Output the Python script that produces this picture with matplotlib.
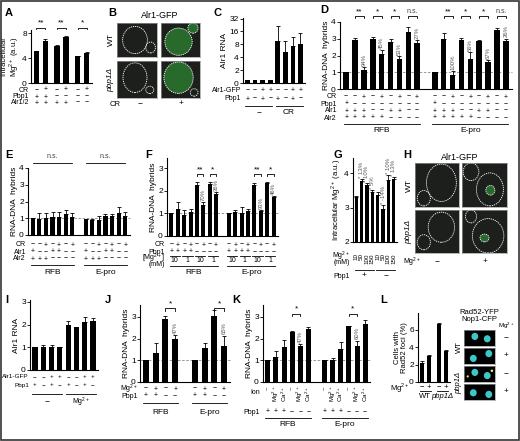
import matplotlib
matplotlib.use("Agg")
import matplotlib.pyplot as plt
import matplotlib.transforms as mtrans
from matplotlib.patches import Ellipse, Rectangle
import numpy as np

# ---------------- data ----------------
A_vals = [5.1, 6.8, 6.0, 7.4, 4.3, 4.8]
A_err = [0.1, 0.2, 0.1, 0.15, 0.05, 0.1]
A_CR = "-+-+-+"; A_Pbp1 = "++----"; A_Alr = "++++--"

C_vals = [1.15, 1.15, 1.15, 1.15, 9.5, 5.2, 7.2, 8.0]
C_errtop = [1.15, 1.15, 1.15, 1.15, 22, 9.5, 12, 15]
C_GFP = "--++--++"; C_Pbp1 = "+-+-+-+-"

D_rfb = [1.0, 2.9, 1.15, 3.0, 2.1, 2.8, 1.8, 3.4, 2.75]
D_rfb_err = [0.0, 0.15, 0.15, 0.08, 0.2, 0.2, 0.15, 0.3, 0.15]
D_epro = [1.0, 3.0, 0.85, 2.9, 1.8, 2.85, 1.6, 3.5, 2.85]
D_epro_err = [0.0, 0.35, 0.2, 0.15, 0.4, 0.05, 0.12, 0.12, 0.15]
D_pct_rfb = ["94%", "45%", "53%", "27%"]
D_pct_epro = ["100%", "56%", "67%", "26%"]
D_sig = ["**", "*", "*", "n.s."]
D_CR = "--+-+-+-+"; D_Pbp1 = "+--------"; D_Alr1 = "+++--++--"; D_Alr2 = "+++++----"

E_rfb = [1.0, 0.98, 1.0, 1.05, 1.1, 1.25, 1.05]
E_rfb_err = [0.0, 0.35, 0.3, 0.3, 0.3, 0.25, 0.25]
E_epro = [0.98, 0.88, 0.9, 1.15, 1.15, 1.3, 1.15]
E_epro_err = [0.0, 0.05, 0.25, 0.1, 0.1, 0.4, 0.25]
E_CR = "--+-+-+"; E_Alr1 = "+--++--"; E_Alr2 = "+++----"

F_rfb = [1.0, 1.2, 0.93, 1.05, 2.25, 1.38, 2.32, 1.85]
F_rfb_err = [0.0, 0.3, 0.2, 0.15, 0.12, 0.12, 0.07, 0.08]
F_epro = [1.0, 1.08, 1.03, 1.1, 2.25, 1.1, 2.35, 1.72]
F_epro_err = [0.0, 0.08, 0.25, 0.08, 0.08, 0.04, 0.04, 0.05]
F_pct_rfb = ["70%", "36%"]; F_pct_epro = ["93%", "46%"]
F_CR = "-+-+-+-+"; F_Pbp1 = "++++----"; F_Mg = ["10", "1", "10", "1"]

G_vals = [3.3, 3.78, 3.65, 3.45, 3.38, 2.97, 3.8, 3.85]
G_err = [0.04, 0.06, 0.07, 0.06, 0.08, 0.1, 0.15, 0.05]
G_lab = ["", "* 13%", "* 10%", "* 5%", "", "* -14%", "* 10%", "* 13%"]
G_Mg = ["10", "50", "100", "150", "10", "50", "100", "150"]

I_vals = [1.0, 1.0, 1.0, 1.0, 2.0, 1.9, 2.1, 2.15]
I_err = [0.0, 0.1, 0.1, 0.0, 0.15, 0.0, 0.25, 0.12]
I_GFP = "--++--++"; I_Pbp1 = "+-+-+-+-"

J_rfb = [1.0, 1.35, 2.9, 2.0]; J_rfb_err = [0.0, 0.45, 0.12, 0.15]
J_epro = [1.0, 1.55, 3.05, 1.68]; J_epro_err = [0.0, 0.25, 0.25, 0.45]
J_pct = ["47%", "65%"]; J_Mg = "-+-+"; J_Pbp1 = "++--"

K_rfb = [1.0, 1.15, 1.6, 2.3, 1.68, 2.43]; K_rfb_err = [0.0, 0.28, 0.35, 0.03, 0.06, 0.12]
K_epro = [1.0, 1.0, 1.5, 2.6, 1.65, 2.68]; K_epro_err = [0.0, 0.1, 0.35, 0.0, 0.25, 0.2]
K_pct = ["47%", "60%"]; K_Ion = ["–", "Mg$^{2+}$", "Ca$^{2+}$", "–", "Mg$^{2+}$", "Ca$^{2+}$"]
K_Pbp1 = "+++---"

L_vals = [2.2, 3.0, 6.6, 3.6]; L_err = [0.2, 0.05, 0.1, 0.1]; L_Mg = "-+-+"

# ---------------- layout helpers ----------------
plt.rcParams['font.family'] = ['Liberation Sans', 'DejaVu Sans']
plt.rcParams['mathtext.fontset'] = 'custom'
plt.rcParams['mathtext.rm'] = 'Liberation Sans'
W, H = 520, 441
fig = plt.figure(figsize=(W / 100, H / 100), dpi=100)
FS = 5
YL = 6
SG = {"+": "+", "-": "−"}

def axp(x0, y0, x1, y1):
    ax = fig.add_axes([x0 / W, 1 - y1 / H, (x1 - x0) / W, (y1 - y0) / H])
    for s in ["top", "right"]:
        ax.spines[s].set_visible(False)
    ax.spines["left"].set_linewidth(0.8)
    ax.spines["bottom"].set_linewidth(0.8)
    ax.tick_params(axis="y", labelsize=6, length=2, width=0.6, pad=1)
    ax.set_xticks([])
    return ax

def fy(y):
    return 1 - y / H

def bl(ax):
    return mtrans.blended_transform_factory(ax.transData, fig.transFigure)

def bars(ax, pos, vals, errs):
    ax.bar(pos, vals, width=0.62, color="black",
           yerr=[np.zeros(len(vals)), errs], ecolor="black",
           error_kw=dict(elinewidth=0.6, capsize=1.2, capthick=0.6))

def row(ax, pos, signs, ypx, name=None, namex=None, fs=FS):
    t = bl(ax)
    for p, s in zip(pos, signs):
        ax.text(p, fy(ypx), SG.get(s, s), transform=t, ha="center", va="center", fontsize=fs)
    if name is not None:
        fig.text(namex / W, fy(ypx), name, ha="right", va="center", fontsize=fs)

def gline(ax, x0, x1, ypx, label, lypx, fs=6):
    t = bl(ax)
    ax.plot([x0, x1], [fy(ypx), fy(ypx)], color="black", lw=0.6, transform=t, clip_on=False)
    ax.text((x0 + x1) / 2, fy(lypx), label, transform=t, ha="center", va="center", fontsize=fs)

def bracket(ax, i, j, y, txt, dy):
    ax.plot([i, i, j, j], [y - dy, y, y, y - dy], color="black", lw=0.6, clip_on=False)
    ax.text((i + j) / 2, y + dy * 0.4, txt, ha="center", va="bottom", fontsize=6 if "n" not in txt else 5,
            color="black" if "n" not in txt else "#444", clip_on=False)

def pct(ax, x, y, txt, fs=4.3):
    ax.text(x, y, txt, rotation=90, ha="center", va="bottom", fontsize=fs, color="#555")

def letter(x, y, s):
    fig.text(x / W, fy(y), s, fontsize=8, fontweight="bold", ha="left", va="center")

def dashline(ax):
    ax.axhline(1, color="#888", lw=0.6, ls=(0, (3, 2)), zorder=0, clip_on=False)

def cell_img(x0, y0, x1, y1, cells):
    a = fig.add_axes([x0 / W, 1 - y1 / H, (x1 - x0) / W, (y1 - y0) / H])
    a.set_facecolor("#1c1f1c"); a.set_xlim(0, 1); a.set_ylim(0, 1)
    a.set_xticks([]); a.set_yticks([])
    for s in a.spines.values():
        s.set_color("#999"); s.set_linewidth(0.5)
    for (cx, cy, w, h, g) in cells:
        if g:
            a.add_patch(Ellipse((cx, cy), w, h, color="#2e8a34", alpha=0.7, lw=0))
        a.add_patch(Ellipse((cx, cy), w, h, fill=False, ec="white", lw=0.6, ls=(0, (1.5, 1))))
    return a

fig.add_artist(Rectangle((0.002, 0.002), 0.996, 0.996, transform=fig.transFigure,
                         fill=False, ec="#333", lw=1.2))

# ---------------- A ----------------
letter(5, 13, "A")
ax = axp(31, 30, 92, 83)
pos = np.array([0, 1, 2.3, 3.3, 4.6, 5.6])
bars(ax, pos, A_vals, A_err)
ax.set_ylim(0, 8.5); ax.set_xlim(-0.6, 6.2); ax.set_yticks([0, 4, 8])
ax.set_ylabel("Intracellular\nMg$^{2+}$ (a.u.)", fontsize=5.5, labelpad=1, linespacing=0.9)
for (i, j, s) in [(0, 1, "**"), (2, 3, "**"), (4, 5, "*")]:
    bracket(ax, pos[i], pos[j], 8.9, s, 0.3)
row(ax, pos, A_CR, 90, "CR", 29)
row(ax, pos, A_Pbp1, 97, "Pbp1", 29)
row(ax, pos, A_Alr, 103, "Alr1/2", 29)

# ---------------- B ----------------
letter(108, 13, "B")
fig.text(160 / W, fy(15), "Alr1-GFP", fontsize=6.5, ha="center", va="center")
cell_img(117, 23, 157, 57, [(0.45, 0.5, 0.62, 0.8, False), (0.84, 0.28, 0.24, 0.32, False)])
cell_img(161, 23, 200, 57, [(0.45, 0.45, 0.7, 0.8, True), (0.82, 0.85, 0.26, 0.3, True)])
cell_img(117, 61, 157, 98, [(0.45, 0.55, 0.6, 0.8, False), (0.82, 0.22, 0.2, 0.2, False)])
cell_img(161, 61, 200, 98, [(0.45, 0.55, 0.75, 0.85, True), (0.85, 0.15, 0.2, 0.2, False)])
fig.text(111 / W, fy(40), "WT", rotation=90, fontsize=6, ha="center", va="center")
fig.text(111 / W, fy(80), "pbp1Δ", rotation=90, fontsize=6, ha="center", va="center", style="italic")
fig.text(115 / W, fy(104), "CR", fontsize=5.5, ha="center", va="center")
fig.text(140 / W, fy(104), "−", fontsize=6, ha="center", va="center")
fig.text(181 / W, fy(104), "+", fontsize=6, ha="center", va="center")

# ---------------- C ----------------
letter(213, 13, "C")
ax = axp(243, 18, 305, 83)
pos = np.arange(8)
ax.bar(pos, C_vals, width=0.62, color="black")
ax.errorbar(pos[4:], C_vals[4:], yerr=[np.zeros(4), np.array(C_errtop[4:]) - np.array(C_vals[4:])],
            fmt="none", ecolor="black", elinewidth=0.6, capsize=1.2, capthick=0.6)
ax.set_yscale("log", base=2); ax.set_ylim(1, 33); ax.set_xlim(-0.6, 7.6)
ax.set_yticks([1, 2, 4, 8, 16, 32]); ax.set_yticklabels(["0", "2", "4", "8", "16", "32"])
ax.minorticks_off()
ax.set_ylabel("Alr1 RNA", fontsize=YL, labelpad=1)
row(ax, pos, C_GFP, 91, "Alr1-GFP", 241)
row(ax, pos, C_Pbp1, 99, "Pbp1", 241)
gline(ax, -0.3, 3.3, 106, "−", 113)
gline(ax, 3.7, 7.3, 106, "CR", 113)

# ---------------- D ----------------
letter(320, 10, "D")
ax = axp(340, 22, 512, 89)
p1 = np.arange(9); p2 = np.arange(9) + 10
bars(ax, p1, D_rfb, D_rfb_err); bars(ax, p2, D_epro, D_epro_err)
ax.set_ylim(0, 4); ax.set_xlim(-0.7, 18.7); ax.set_yticks([0, 1, 2, 3, 4])
dashline(ax)
ax.set_ylabel("RNA-DNA  hybrids", fontsize=YL, labelpad=1)
for k in range(4):
    for p, v, e, pc in [(p1, D_rfb, D_rfb_err, D_pct_rfb), (p2, D_epro, D_epro_err, D_pct_epro)]:
        i = 2 * k + 2
        pct(ax, p[i], v[i] + e[i] + 0.08, pc[k])
        bracket(ax, p[i - 1], p[i], 4.35, D_sig[k], 0.12)
pall = np.concatenate([p1, p2])
row(ax, pall, D_CR * 2, 97, "CR", 337)
row(ax, pall, D_Pbp1 * 2, 104, "Pbp1", 337)
row(ax, pall, D_Alr1 * 2, 111, "Alr1", 337)
row(ax, pall, D_Alr2 * 2, 118, "Alr2", 337)
gline(ax, -0.3, 8.3, 124, "RFB", 131, 6)
gline(ax, 9.7, 18.3, 124, "E-pro", 131, 6)

# ---------------- E ----------------
letter(5, 155, "E")
ax = axp(28, 168, 130, 235)
p1 = np.arange(7); p2 = np.arange(7) + 8
bars(ax, p1, E_rfb, E_rfb_err); bars(ax, p2, E_epro, E_epro_err)
ax.set_ylim(0, 4); ax.set_xlim(-0.7, 14.7); ax.set_yticks([0, 1, 2, 3, 4])
dashline(ax)
ax.set_ylabel("RNA-DNA  hybrids", fontsize=YL, labelpad=1)
for (a, b) in [(p1[0], p1[-1]), (p2[0], p2[-1])]:
    ax.plot([a, b], [4.3, 4.3], color="black", lw=0.6, clip_on=False)
    ax.text((a + b) / 2, 4.45, "n.s.", ha="center", va="bottom", fontsize=5, color="#444")
pall = np.concatenate([p1, p2])
row(ax, pall, E_CR * 2, 245, "CR", 26)
row(ax, pall, E_Alr1 * 2, 252, "Alr1", 26)
row(ax, pall, E_Alr2 * 2, 259, "Alr2", 26)
gline(ax, -0.3, 6.3, 265, "RFB", 272, 6)
gline(ax, 7.7, 14.3, 265, "E-pro", 272, 6)

# ---------------- F ----------------
letter(145, 155, "F")
ax = axp(167, 158, 278, 236)
p1 = np.arange(8); p2 = np.arange(8) + 9
bars(ax, p1, F_rfb, F_rfb_err); bars(ax, p2, F_epro, F_epro_err)
ax.set_ylim(0, 3.45); ax.set_xlim(-0.7, 16.7); ax.set_yticks([0, 1, 2, 3])
dashline(ax)
ax.set_ylabel("RNA-DNA  hybrids", fontsize=YL, labelpad=1)
for p, v, e, pc in [(p1, F_rfb, F_rfb_err, F_pct_rfb), (p2, F_epro, F_epro_err, F_pct_epro)]:
    for k, i in enumerate([5, 7]):
        pct(ax, p[i], v[i] + e[i] + 0.06, pc[k])
    bracket(ax, p[4], p[5], 2.75, "**", 0.1)
    bracket(ax, p[6], p[7], 2.75, "*", 0.1)
pall = np.concatenate([p1, p2])
row(ax, pall, F_CR * 2, 245, "CR", 165)
row(ax, pall, F_Pbp1 * 2, 252, "Pbp1", 165)
fig.text(165 / W, fy(258), "[Mg$^{2+}$]", ha="right", va="center", fontsize=FS)
fig.text(165 / W, fy(264), "(mM)", ha="right", va="center", fontsize=FS)
for p in [p1, p2]:
    for k in range(4):
        gline(ax, p[2 * k] - 0.3, p[2 * k + 1] + 0.3, 256, F_Mg[k], 261, FS)
gline(ax, -0.3, 7.3, 266, "RFB", 272, 6)
gline(ax, 8.7, 16.3, 266, "E-pro", 272, 6)

# ---------------- G ----------------
letter(333, 155, "G")
ax = axp(353, 158, 397, 242)
pos = np.arange(8)
bars(ax, pos, G_vals, G_err)
ax.set_ylim(2, 4.45); ax.set_xlim(-0.6, 7.6); ax.set_yticks([2, 3, 4])
ax.set_ylabel("Intracellular Mg$^{2+}$ (a.u.)", fontsize=5.5, labelpad=1)
for i in range(8):
    if G_lab[i]:
        pct(ax, pos[i], G_vals[i] + G_err[i] + 0.03, G_lab[i], 4.3)
t = bl(ax)
for p, s in zip(pos, G_Mg):
    ax.text(p, fy(253), s, transform=t, rotation=90, ha="center", va="top", fontsize=4.5)
fig.text(350 / W, fy(256), "Mg$^{2+}$", ha="right", va="center", fontsize=FS)
fig.text(350 / W, fy(263), "(mM)", ha="right", va="center", fontsize=FS)
fig.text(350 / W, fy(276), "Pbp1", ha="right", va="center", fontsize=FS)
gline(ax, -0.3, 3.3, 270, "+", 276, 6)
gline(ax, 3.7, 7.3, 270, "−", 276, 6)

# ---------------- H ----------------
letter(403, 155, "H")
fig.text(460 / W, fy(157), "Alr1-GFP", fontsize=6.5, ha="center", va="center")
cell_img(415, 163, 459, 207, [(0.6, 0.55, 0.68, 0.85, False), (0.2, 0.2, 0.3, 0.35, False)])
cell_img(462, 163, 507, 207, [(0.2, 0.8, 0.35, 0.4, False), (0.62, 0.4, 0.6, 0.75, False), (0.63, 0.38, 0.2, 0.22, True)])
cell_img(415, 210, 459, 253, [(0.6, 0.6, 0.6, 0.7, False), (0.2, 0.25, 0.3, 0.35, False)])
cell_img(462, 210, 507, 253, [(0.2, 0.85, 0.25, 0.3, False), (0.58, 0.4, 0.7, 0.8, False), (0.5, 0.35, 0.2, 0.18, True)])
fig.text(409 / W, fy(185), "WT", rotation=90, fontsize=6, ha="center", va="center")
fig.text(409 / W, fy(232), "pbp1Δ", rotation=90, fontsize=6, ha="center", va="center", style="italic")
fig.text(412 / W, fy(262), "Mg$^{2+}$", fontsize=5, ha="center", va="center")
fig.text(437 / W, fy(262), "−", fontsize=6, ha="center", va="center")
fig.text(485 / W, fy(262), "+", fontsize=6, ha="center", va="center")

# ---------------- I ----------------
letter(5, 300, "I")
ax = axp(30, 300, 98, 370)
pos = np.arange(8)
bars(ax, pos, I_vals, I_err)
ax.set_ylim(0, 3.08); ax.set_xlim(-0.6, 7.6); ax.set_yticks([0, 1, 2, 3])
ax.set_ylabel("Alr1 RNA", fontsize=YL, labelpad=1)
row(ax, pos, I_GFP, 377, "Alr1-GFP", 29, 4.6)
row(ax, pos, I_Pbp1, 385, "Pbp1", 29, 4.6)
gline(ax, -0.3, 3.3, 394, "−", 402)
gline(ax, 3.7, 7.3, 394, "Mg$^{2+}$", 402, 5)

# ---------------- J ----------------
letter(105, 300, "J")
ax = axp(140, 305, 230, 382)
p1 = np.arange(4); p2 = np.arange(4) + 5
bars(ax, p1, J_rfb, J_rfb_err); bars(ax, p2, J_epro, J_epro_err)
ax.set_ylim(0, 3.55); ax.set_xlim(-0.6, 8.6); ax.set_yticks([0, 1, 2, 3])
dashline(ax)
ax.set_ylabel("RNA-DNA  hybrids", fontsize=YL, labelpad=1)
for p, v, e, k in [(p1, J_rfb, J_rfb_err, 0), (p2, J_epro, J_epro_err, 1)]:
    pct(ax, p[3], v[3] + e[3] + 0.06, J_pct[k])
    bracket(ax, p[2], p[3], 3.4, "*", 0.12)
pall = np.concatenate([p1, p2])
row(ax, pall, J_Mg * 2, 389, "Mg$^{2+}$", 138)
row(ax, pall, J_Pbp1 * 2, 396, "Pbp1", 138)
gline(ax, -0.3, 3.3, 403, "RFB", 413, 6)
gline(ax, 4.7, 8.3, 403, "E-pro", 413, 6)

# ---------------- K ----------------
letter(232, 300, "K")
ax = axp(263, 305, 370, 382)
p1 = np.arange(6); p2 = np.arange(6) + 7
bars(ax, p1, K_rfb, K_rfb_err); bars(ax, p2, K_epro, K_epro_err)
ax.set_ylim(0, 3.55); ax.set_xlim(-0.6, 12.6); ax.set_yticks([0, 1, 2, 3])
dashline(ax)
ax.set_ylabel("RNA-DNA  hybrids", fontsize=YL, labelpad=1)
for p, v, e, k in [(p1, K_rfb, K_rfb_err, 0), (p2, K_epro, K_epro_err, 1)]:
    pct(ax, p[4], v[4] + e[4] + 0.06, K_pct[k])
    bracket(ax, p[3], p[4], 3.15, "*", 0.12)
pall = np.concatenate([p1, p2])
t = bl(ax)
for p, s in zip(pall, K_Ion * 2):
    ax.text(p, fy(386), s, transform=t, rotation=90, ha="center", va="top", fontsize=4.5)
fig.text(260 / W, fy(392), "Ion", ha="right", va="center", fontsize=FS)
row(ax, pall, K_Pbp1 * 2, 412, "Pbp1", 260)
gline(ax, -0.3, 5.3, 418, "RFB", 425, 6)
gline(ax, 6.7, 12.3, 418, "E-pro", 425, 6)

# ---------------- L ----------------
letter(380, 300, "L")
ax = axp(418, 313, 450, 382)
pos = np.array([0, 1, 2.6, 3.6])
bars(ax, pos, L_vals, L_err)
ax.set_ylim(0, 7.9); ax.set_xlim(-0.6, 4.2); ax.set_yticks([0, 2, 4, 6])
ax.set_ylabel("Cells with\nRad52 foci (%)", fontsize=5.5, labelpad=1, linespacing=0.9)
row(ax, pos, L_Mg, 387, None, None, 5.5)
fig.text(410 / W, fy(388), "Mg$^{2+}$", ha="right", va="center", fontsize=5.5)
t = bl(ax)
for (a, b, s) in [(pos[0], pos[1], "WT"), (pos[2], pos[3], "pbp1Δ")]:
    ax.plot([a - 0.3, b + 0.3], [fy(391), fy(391)], color="black", lw=0.6, transform=t, clip_on=False)
    ax.text((a + b) / 2, fy(397), s, transform=t, ha="center", va="center", fontsize=5.5,
            style="italic" if s != "WT" else "normal")
fig.text(479 / W, fy(316), "Rad52-YFP\nNop1-CFP", fontsize=5.5, ha="center", va="center", linespacing=1.0)
fig.text(506 / W, fy(326), "Mg$^{2+}$", fontsize=4.5, ha="center", va="center")
blobs = [[(0.35, 0.6), (0.75, 0.45)], [(0.3, 0.35), (0.8, 0.65)],
         [(0.35, 0.6), (0.75, 0.4)], [(0.3, 0.45), (0.8, 0.35)]]
ys = [(330, 346), (348, 364), (366, 382), (384, 400)]
for k, (y0, y1) in enumerate(ys):
    a = fig.add_axes([464 / W, 1 - y1 / H, 31 / W, (y1 - y0) / H])
    a.set_facecolor("black"); a.set_xlim(0, 1); a.set_ylim(0, 1)
    a.set_xticks([]); a.set_yticks([])
    for s in a.spines.values():
        s.set_color("#999"); s.set_linewidth(0.5)
    for (cx, cy) in blobs[k]:
        a.add_patch(Ellipse((cx, cy), 0.22, 0.45, color="#3cc8c8", lw=0))
    if k == 2:
        a.add_patch(Ellipse((0.12, 0.35), 0.07, 0.14, color="#f0f050", lw=0))
        a.add_patch(Ellipse((0.9, 0.7), 0.08, 0.16, color="#f0f050", lw=0))
    fig.text(506 / W, fy((y0 + y1) / 2), "−" if k % 2 == 0 else "+", fontsize=6, ha="center", va="center")
fig.text(459 / W, fy(347), "WT", rotation=90, fontsize=5.5, ha="center", va="center")
fig.text(459 / W, fy(383), "pbp1Δ", rotation=90, fontsize=5.5, ha="center", va="center", style="italic")

fig.savefig("out.png", dpi=100)
